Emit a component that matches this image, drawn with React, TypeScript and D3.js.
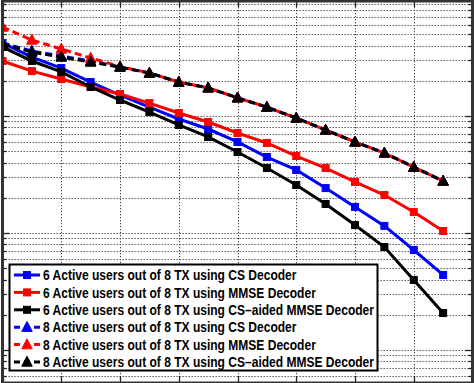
import React from "react";
import * as d3 from "d3";

const snr = [0, 2, 4, 6, 8, 10, 12, 14, 16, 18, 20, 22, 24, 26, 28, 30];
const xTicks = [0, 4, 8, 12, 16, 20, 24, 28, 32];

const blueSolid = [0.0421, 0.0319, 0.0257, 0.0195, 0.0151, 0.0119, 0.00943, 0.00774, 0.006, 0.00446, 0.00346, 0.00242, 0.00167, 0.00115, 0.000716, 0.000438];
const redSolid = [0.0295, 0.0242, 0.0207, 0.0177, 0.0154, 0.0129, 0.0106, 0.00888, 0.00716, 0.00588, 0.00455, 0.00359, 0.00273, 0.00211, 0.00151, 0.00104];
const blackSolid = [0.0389, 0.0295, 0.0238, 0.0177, 0.0137, 0.0108, 0.00838, 0.00662, 0.00492, 0.00359, 0.00257, 0.00177, 0.00117, 0.000759, 0.000397, 0.000207];
const blueDashed = [0.0421, 0.0359, 0.0326, 0.0295, 0.0262, 0.0233, 0.0195, 0.0174, 0.0143, 0.0119, 0.00961, 0.00759, 0.006, 0.00483, 0.00366, 0.00278];
const redDashed = [0.0576, 0.0446, 0.0374, 0.0313, 0.0265, 0.0233, 0.0195, 0.0174, 0.0143, 0.0119, 0.00961, 0.00759, 0.006, 0.00483, 0.00366, 0.00278];
const blackDashed = [0.0413, 0.0352, 0.0319, 0.0289, 0.0262, 0.0233, 0.0195, 0.0174, 0.0143, 0.0119, 0.00961, 0.00759, 0.006, 0.00483, 0.00366, 0.00278];

const labels = [
  "6 Active users out of 8 TX using CS Decoder",
  "6 Active users out of 8 TX using MMSE Decoder",
  "6 Active users out of 8 TX using CS\u2013aided MMSE Decoder",
  "8 Active users out of 8 TX using CS Decoder",
  "8 Active users out of 8 TX using MMSE Decoder",
  "8 Active users out of 8 TX using CS\u2013aided MMSE Decoder",
];

const seriesData = [blueSolid, redSolid, blackSolid, blueDashed, redDashed, blackDashed];
const seriesColor = ["#0000ff", "#ff0000", "#000000", "#0000ff", "#ff0000", "#000000"];
const seriesDashed = [false, false, false, true, true, true];

const W = 474;
const H = 383;
const L = 2.5, R = 472.5, T = 1, B = 383;

export default function App() {
  const x = d3.scaleLinear().domain([0, 32]).range([L, R]);
  const y = d3.scaleLog().domain([1e-1, 1e-4]).range([-1, 350]);

  const yGrid: number[] = [];
  for (let e = -5; e <= 0; e++) {
    for (let m = 1; m <= 9; m++) {
      const v = m * Math.pow(10, e);
      const py = y(v);
      if (py > T + 0.5 && py < B - 0.5) yGrid.push(v);
    }
  }

  const line = d3
    .line<number>()
    .x((_, i) => x(snr[i]))
    .y((d) => y(d));

  const square = (cx: number, cy: number, s: number, c: string, k: string) => (
    <rect key={k} x={cx - s / 2} y={cy - s / 2} width={s} height={s} fill={c} stroke={c} strokeWidth={1} />
  );
  const tri = (cx: number, cy: number, s: number, c: string, k: string) => (
    <path
      key={k}
      d={`M${cx},${cy - s * 0.55} L${cx + s / 2},${cy + s * 0.4} L${cx - s / 2},${cy + s * 0.4} Z`}
      fill={c}
      stroke={c}
      strokeWidth={1}
    />
  );

  const legX = 9.5, legY = 264.5, legW = 368, legH = 106;
  const rowY = (i: number) => 275 + i * 17.4;

  return (
    <div style={{ position: "fixed", left: 0, top: 0 }}>
      <svg width={W} height={H} style={{ display: "block", background: "#fff" }}>
        <defs>
          <clipPath id="plotClip">
            <rect x={L} y={T} width={R - L} height={B - T} />
          </clipPath>
        </defs>
        {/* grid */}
        <g stroke="#444" strokeWidth={1} strokeDasharray="1.3 1.7">
          {yGrid.map((v, i) => (
            <line key={"yg" + i} x1={L} x2={R} y1={Math.round(y(v)) + 0.5} y2={Math.round(y(v)) + 0.5} />
          ))}
          {xTicks.slice(1, -1).map((t) => (
            <line key={"xg" + t} x1={Math.round(x(t)) + 0.5} x2={Math.round(x(t)) + 0.5} y1={T} y2={B} />
          ))}
        </g>
        {/* ticks */}
        <g stroke="#222" strokeWidth={1.3}>
          {yGrid.map((v, i) => {
            const py = Math.round(y(v)) + 0.5;
            const major = Math.abs(Math.log10(v) - Math.round(Math.log10(v))) < 1e-6;
            const len = major ? 7 : 4;
            return (
              <g key={"yt" + i}>
                <line x1={L} x2={L + len} y1={py} y2={py} />
                <line x1={R} x2={R - len} y1={py} y2={py} />
              </g>
            );
          })}
          {xTicks.map((t) => {
            const px = Math.round(x(t)) + 0.5;
            return (
              <g key={"xt" + t}>
                <line x1={px} x2={px} y1={T} y2={T + 6} />
                <line x1={px} x2={px} y1={B} y2={B - 7} />
              </g>
            );
          })}
        </g>
        {/* series */}
        <g clipPath="url(#plotClip)">
          {seriesData.map((d, s) => (
            <g key={"s" + s}>
              <path
                d={line(d) || ""}
                fill="none"
                stroke={seriesColor[s]}
                strokeWidth={3}
                strokeDasharray={seriesDashed[s] ? "7 4" : undefined}
              />
              {d.map((v, i) =>
                seriesDashed[s]
                  ? tri(x(snr[i]), y(v), 10.5, seriesColor[s], `m${s}-${i}`)
                  : square(x(snr[i]), y(v), 7, seriesColor[s], `m${s}-${i}`)
              )}
            </g>
          ))}
        </g>
        {/* frame */}
        <rect x={L} y={T} width={R - L} height={B - T} fill="none" stroke="#333" strokeWidth={3} />
        {/* legend */}
        <g>
          <rect x={legX} y={legY} width={legW} height={legH} fill="#fff" stroke="#000" strokeWidth={2} />
          {labels.map((lab, i) => {
            const cy = rowY(i);
            return (
              <g key={"lg" + i}>
                <line
                  x1={14}
                  x2={40}
                  y1={cy}
                  y2={cy}
                  stroke={seriesColor[i]}
                  strokeWidth={3}
                  strokeDasharray={seriesDashed[i] ? "6 4" : undefined}
                />
                {seriesDashed[i] ? tri(27, cy, 10.5, seriesColor[i], "lm" + i) : square(27, cy, 7, seriesColor[i], "lm" + i)}
                <text
                  transform={`translate(43,${cy + 5.2}) scale(0.83,1)`}
                  fontFamily="'Liberation Sans', Arial, Helvetica, sans-serif"
                  fontWeight="bold"
                  fontSize={14.5}
                  fill="#000"
                >
                  {lab}
                </text>
              </g>
            );
          })}
        </g>
      </svg>
    </div>
  );
}
